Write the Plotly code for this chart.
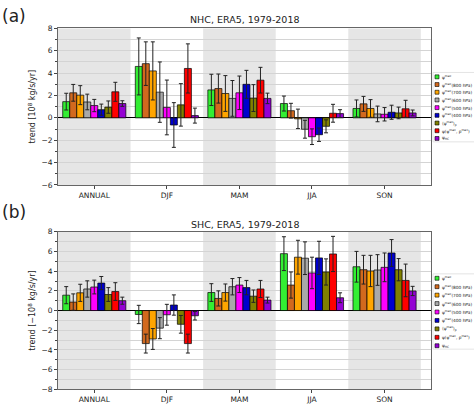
import plotly.graph_objects as go

seasons = ["ANNUAL", "DJF", "MAM", "JJA", "SON"]
series_names = [
    "ψ<sup>max</sup>",
    "ψ<sup>max</sup>(800 hPa)",
    "ψ<sup>max</sup>(700 hPa)",
    "ψ<sup>max</sup>(600 hPa)",
    "ψ<sup>max</sup>(500 hPa)",
    "ψ<sup>max</sup>(400 hPa)",
    "⟨ψ<sup>max</sup>⟩<sub>p</sub>",
    "ψ(φ<sup>max</sup>, p<sup>max</sup>)",
    "ψ<sub>HC</sub>",
]
colors = ["#33ee33", "#d2691e", "#ffa500", "#a9a9a9", "#ff00ff",
          "#0000cd", "#808000", "#ff0000", "#9400d3"]

# NHC values [series][season]
nhc_vals = [
    [1.45, 4.60, 2.50, 1.28, 0.84],
    [2.24, 4.85, 2.62, 0.64, 1.25],
    [2.03, 4.20, 2.18, -0.09, 0.84],
    [1.42, 2.30, 1.74, -1.02, 0.35],
    [1.10, 0.93, 2.24, -1.69, 0.32],
    [0.73, -0.64, 3.00, -1.51, 0.50],
    [0.96, 1.16, 1.77, -0.76, 0.44],
    [2.33, 4.42, 3.37, 0.41, 0.81],
    [1.28, 0.20, 1.74, 0.38, 0.44],
]
nhc_err = [
    [0.75, 2.55, 1.40, 0.67, 0.76],
    [0.75, 1.95, 1.30, 0.66, 0.67],
    [0.85, 2.60, 1.60, 0.87, 0.79],
    [0.70, 2.70, 1.60, 0.80, 0.70],
    [0.55, 2.45, 1.50, 0.70, 0.60],
    [0.50, 2.00, 1.25, 0.60, 0.63],
    [0.55, 1.90, 1.20, 0.58, 0.52],
    [0.85, 2.20, 1.15, 0.80, 0.76],
    [0.25, 0.67, 0.47, 0.35, 0.26],
]
shc_vals = [
    [1.56, -0.40, 1.83, 5.78, 4.45],
    [0.86, -3.36, 1.23, 2.59, 4.15],
    [1.80, -2.89, 1.83, 5.42, 4.02],
    [2.19, -1.79, 2.42, 5.32, 4.12],
    [2.39, -0.43, 2.59, 3.82, 4.39],
    [2.79, 0.56, 2.33, 5.35, 5.85],
    [1.63, -1.40, 1.46, 3.92, 4.15],
    [1.93, -3.36, 2.19, 5.75, 3.06],
    [1.00, -0.53, 1.06, 1.30, 1.99],
]
shc_err = [
    [0.87, 0.93, 0.90, 1.72, 1.56],
    [0.83, 0.96, 0.77, 1.33, 1.46],
    [0.87, 1.06, 0.87, 1.72, 1.59],
    [0.83, 1.07, 0.83, 1.66, 1.56],
    [0.70, 1.06, 0.76, 1.60, 1.46],
    [0.67, 1.03, 0.73, 1.69, 1.36],
    [0.70, 0.90, 0.63, 1.33, 1.13],
    [0.90, 0.96, 0.87, 1.79, 1.66],
    [0.36, 0.43, 0.30, 0.50, 0.47],
]

FONT = "DejaVu Sans"
W, H = 474, 405
fig = go.Figure()
xs = list(range(len(seasons)))

for panel, (vals, errs, xa, ya) in enumerate([(nhc_vals, nhc_err, "x", "y"),
                                               (shc_vals, shc_err, "x2", "y2")]):
    for j in range(len(series_names)):
        fig.add_trace(go.Bar(
            x=xs, y=vals[j], xaxis=xa, yaxis=ya,
            name=series_names[j], showlegend=False,
            offsetgroup=str(j),
            marker=dict(color=colors[j], line=dict(color="black", width=0.7)),
            error_y=dict(type="data", array=errs[j], color="#222222",
                         thickness=1, width=2),
        ))

# panel geometry in pixels
px_l, px_r = 58, 431
panels = [(25, 185, "y", "x", [-6, 8]), (233, 394, "y2", "x2", [-8, 8])]

xdom = [px_l / W, px_r / W]
axis_common = dict(showline=True, linecolor="#666666", linewidth=1, mirror=True,
                   ticks="outside", ticklen=3, tickcolor="#444444",
                   tickfont=dict(family=FONT, size=7.5, color="#222"))

fig.update_layout(
    width=W, height=H, margin=dict(l=0, r=0, t=0, b=0),
    paper_bgcolor="white", plot_bgcolor="white",
    barmode="group", bargap=0.13, bargroupgap=0,
    showlegend=False,
    xaxis=dict(domain=xdom, anchor="y", range=[-0.5, 4.64],
               tickvals=xs, ticktext=seasons, showgrid=False, zeroline=False, **axis_common),
    yaxis=dict(domain=[1 - 185 / H, 1 - 25 / H], anchor="x", range=[-6, 8],
               tickvals=[-6, -4, -2, 0, 2, 4, 6, 8], ticktext=["−6", "−4", "−2", "0", "2", "4", "6", "8"],
               showgrid=False, zeroline=True, zerolinecolor="black", zerolinewidth=1.3,
               minor=dict(dtick=1, showgrid=True, gridcolor="#d4d4d4", gridwidth=0.8,
                          ticks="outside", ticklen=2, tickcolor="#444"),
               title=dict(text="trend [10<sup>8</sup> kg/s/yr]", font=dict(family=FONT, size=8, color="#222"),
                          standoff=4),
               **axis_common),
    xaxis2=dict(domain=xdom, anchor="y2", range=[-0.5, 4.64],
                tickvals=xs, ticktext=seasons, showgrid=False, zeroline=False, **axis_common),
    yaxis2=dict(domain=[1 - 394 / H, 1 - 233 / H], anchor="x2", range=[-8, 8],
                tickvals=[-8, -6, -4, -2, 0, 2, 4, 6, 8],
                ticktext=["−8", "−6", "−4", "−2", "0", "2", "4", "6", "8"],
                showgrid=False, zeroline=True, zerolinecolor="black", zerolinewidth=1.3,
                minor=dict(dtick=1, showgrid=True, gridcolor="#d4d4d4", gridwidth=0.8,
                           ticks="outside", ticklen=2, tickcolor="#444"),
                title=dict(text="trend [−10<sup>8</sup> kg/s/yr]", font=dict(family=FONT, size=8, color="#222"),
                           standoff=4),
                **axis_common),
)

shapes = []
annotations = []
for (top, bot, yref, xref, yr) in panels:
    # seasonal background bands
    for i in range(len(seasons)):
        if i % 2 == 0:
            shapes.append(dict(type="rect", xref=xref, yref=yref + " domain",
                               x0=i - 0.5, x1=i + 0.5, y0=0, y1=1,
                               fillcolor="#e6e6e6", line=dict(width=0), layer="below"))

titles = ["NHC, ERA5, 1979-2018", "SHC, ERA5, 1979-2018"]
letters = ["(a)", "(b)"]
title_y = [16, 225]
letter_y = [12, 213]
for k in range(2):
    annotations.append(dict(text=titles[k], x=(px_l + px_r) / 2 / W, y=1 - title_y[k] / H,
                            xref="paper", yref="paper", showarrow=False,
                            font=dict(family=FONT, size=9.5, color="#222"),
                            xanchor="center", yanchor="middle"))
    annotations.append(dict(text=letters[k], x=0, y=1 - letter_y[k] / H,
                            xref="paper", yref="paper", showarrow=False,
                            font=dict(family=FONT, size=17, color="#222"),
                            xanchor="left", yanchor="middle"))

# manual legends
leg_boxes = [(70, 141), (276, 353)]
for k, (ly0, ly1) in enumerate(leg_boxes):
    shapes.append(dict(type="rect", xref="paper", yref="paper",
                       x0=433 / W, x1=1.02, y0=1 - ly1 / H, y1=1 - ly0 / H,
                       fillcolor="white", line=dict(color="#dddddd", width=0.8)))
    step = (ly1 - ly0 - 8) / (len(series_names) - 1)
    for j, nm in enumerate(series_names):
        cy = ly0 + 4.5 + j * step
        shapes.append(dict(type="rect", xref="paper", yref="paper",
                           x0=435 / W, x1=439 / W,
                           y0=1 - (cy + 2) / H, y1=1 - (cy - 2) / H,
                           fillcolor=colors[j], line=dict(color="black", width=0.6)))
        annotations.append(dict(text=nm, x=439.5 / W, y=1 - cy / H,
                                xref="paper", yref="paper", showarrow=False,
                                font=dict(family=FONT, size=4.3, color="#222"),
                                xanchor="left", yanchor="middle"))

fig.update_layout(shapes=shapes, annotations=annotations)
fig.write_html("out.html")
